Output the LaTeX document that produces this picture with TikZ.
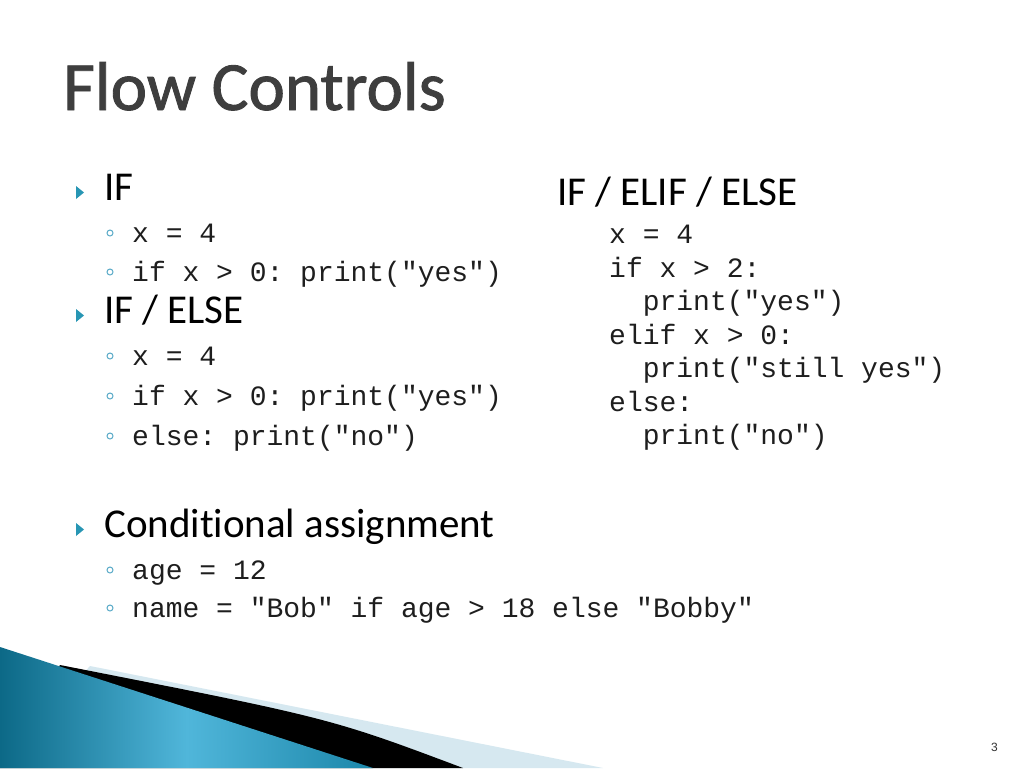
\documentclass[tikz,border=0pt]{standalone}
\usepackage{fontspec}
\setmainfont{Carlito}[Ligatures=NoCommon]
\setmonofont{Liberation Mono}
\newfontfamily\numfont{Liberation Sans}
\newfontfamily\titlefont{Carlito}[FakeBold=1.3]
\definecolor{titlegray}{RGB}{62,62,62}
\definecolor{bulletteal}{RGB}{40,150,180}
\definecolor{ringteal}{RGB}{90,170,200}
\definecolor{lightband}{RGB}{214,232,240}
\definecolor{blueA}{RGB}{12,105,135}
\definecolor{blueB}{RGB}{80,182,218}
\definecolor{blueC}{RGB}{28,135,170}
\definecolor{codegray}{RGB}{30,30,30}
\begin{document}
\begin{tikzpicture}[x=1pt,y=-1pt,
  titletext/.style={anchor=base west,inner sep=0pt,font=\fontsize{69}{80}\selectfont\titlefont},
  head/.style={anchor=base west,inner sep=0pt,font=\fontsize{41}{48}\selectfont},
  code/.style={anchor=base west,inner sep=0pt,text=codegray,font=\fontsize{28}{34}\selectfont\ttfamily},
  tri/.style={fill=bulletteal},
  ring/.style={draw=ringteal,line width=1pt},
  pagenum/.style={anchor=base west,inner sep=0pt,font=\fontsize{12}{14}\selectfont\numfont,text=black!80}]
\fill[white] (0,0) rectangle (1024,768);
\useasboundingbox (0,0) rectangle (1024,768);
% bottom-left decoration
\fill[lightband] (90,666) -- (603,768) -- (0,768) -- cycle;
\fill[black] (60,665) .. controls (330,718) .. (463,768) -- (0,768) -- cycle;
\shade[left color=blueA, right color=blueC, middle color=blueB] (0,647) -- (373,768) -- (0,768) -- cycle;
% title
\node[titletext,text=titlegray] (title) at (63,110) {Flow Controls};
% left column
\node[head] (h1) at (104,200) {IF};
\node[code] (c1) at (132,242) {x = 4};
\node[code] (c2) at (132,281) {if x > 0: print("yes")};
\node[head] (h2) at (104,323) {IF / ELSE};
\node[code] (c3) at (132,365) {x = 4};
\node[code] (c4) at (132,405) {if x > 0: print("yes")};
\node[code] (c5) at (132,445) {else: print("no")};
\node[head] (h3) at (104,537) {Conditional assignment};
\node[code] (c6) at (132,579) {age = 12};
\node[code] (c7) at (132,617) {name = "Bob" if age > 18 else "Bobby"};
% bullets
\foreach \h in {h1,h2,h3}{
  \fill[tri] ([shift={(-28,-14)}]\h.base west) -- ([shift={(-28,-1)}]\h.base west) -- ([shift={(-20,-7.5)}]\h.base west) -- cycle;
}
\foreach \c in {c1,c2,c3,c4,c5,c6,c7}{
  \draw[ring] ([shift={(-22,-9)}]\c.base west) circle (3);
}
% right column
\node[head] (h4) at (557,205) {IF / ELIF / ELSE};
\node[code] (r1) at (609,243) {x = 4};
\node[code] (r2) at (609,277) {if x > 2:};
\node[code] (r3) at (642.6,310.5) {print("yes")};
\node[code] (r4) at (609,344) {elif x > 0:};
\node[code] (r5) at (642.6,377.5) {print("still yes")};
\node[code] (r6) at (609,411) {else:};
\node[code] (r7) at (642.6,444.5) {print("no")};
% page number
\node[pagenum] (pg) at (991,751) {3};
\end{tikzpicture}
\end{document}
